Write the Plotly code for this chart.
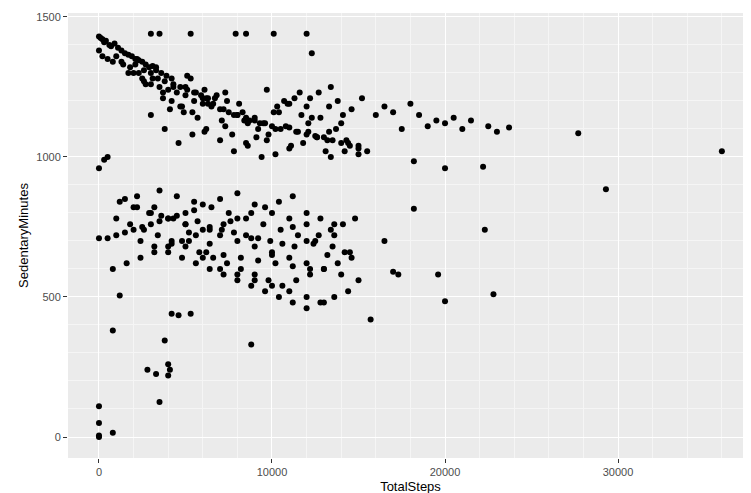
import plotly.graph_objects as go

total_steps = [
 36000,29300,27700,22800,22300,22200,20000,20000,19600,18200,18200,23700,23000,22500,21500,21000,20500,20000,19500,19000,18500,18000,17500,17000,16500,16000,17000,17300,16500,15700,
 12000,12300,10100,8500,7900,5300,3500,3000,
 0,0,0,0,800,800,3500,4000,4000,4100,3300,2800,3800,4200,4600,5300,8800,1200,0,0,500,300,
 0,100,200,300,400,600,700,900,1100,1300,1500,1700,1900,2100,2300,2500,2700,2900,3100,3300,3600,3900,4200,
 0,200,500,800,1000,1400,1800,2200,2600,3000,3400,3800,4300,4700,5100,5500,5900,6300,
 2000,2500,3000,3500,4000,4500,5000,5500,6000,6500,7000,7500,8000,8500,9000,9500,10000,10500,11000,11500,12000,12500,13000,13500,14000,14500,15000,15500,
 4200,4800,5400,6000,6600,7200,7800,8400,9000,9600,10200,10800,11400,12000,12600,13200,13800,14400,15000,
 5000,5600,6200,6800,7400,8000,8600,9200,9800,10400,11000,11600,12200,12800,13400,14000,14600,15200,
 3000,3800,4600,5400,6200,7000,7800,8600,9400,10200,11000,11800,12600,13400,14200,15000,
 1500,2200,2900,3600,4300,5000,5700,6400,7100,7800,8500,9200,9900,10600,11300,12000,12700,13400,14100,14800,
 1000,1800,2600,3400,4200,5000,5800,6600,7400,8200,9000,9800,10600,11400,12200,13000,13800,14600,
 2400,3200,4000,4800,5600,6400,7200,8000,8800,9600,10400,11200,12000,12800,13600,14400,
 800,1600,2400,3200,4000,4800,5600,6400,7200,8000,8800,9600,10400,11200,12000,12800,13600,
 3500,4500,5500,6500,7500,8500,9500,10500,11500,12500,13500,14500,
 2000,3000,4000,5000,6000,7000,8000,9000,10000,11000,12000,13000,14000,15000,
 6000,7000,8000,9000,10000,11000,12000,13000,
 500,1000,1500,2000,2500,3000,3500,4000,4500,5000,5500,6000,7000,8000,9000,10000,11000,12000,
 1200,2200,3200,4200,5200,6200,7200,8200,9200,10200,11200,12200,13200,14200,
 1300,2300,3300,4300,5300,6300,7300,8300,9300,10300,11300,12300,13300,14300,
 1700,2700,3700,4700,5700,6700,7700,8700,9700,10700,11700,12700,13700,
 2100,3100,4100,5100,6100,7100,8100,9100,10100,11100,12100,13100,14100,
 2600,3700,4900,6100,7300,8500,9700,10900,12100,13300,
 5200,6400,7600,8800,10000,11200,12400,13600,
]
sedentary_minutes = [
 1020,885,1085,510,740,965,960,485,580,815,985,1105,1090,1110,1130,1100,1140,1120,1130,1110,1150,1190,1100,1160,1180,1150,590,580,700,420,
 1440,1370,1440,1440,1440,1440,1440,1440,
 110,50,5,0,15,380,125,260,220,240,225,240,345,440,435,440,330,505,710,960,1000,990,
 1430,1425,1420,1410,1415,1400,1395,1405,1390,1380,1370,1365,1360,1350,1345,1340,1330,1320,1325,1310,1300,1290,1280,
 1380,1360,1350,1340,1360,1330,1320,1350,1310,1300,1280,1270,1260,1250,1240,1230,1220,1210,
 1300,1280,1260,1250,1240,1230,1220,1200,1190,1180,1170,1160,1150,1140,1130,1120,1110,1100,1105,1090,1080,1075,1070,1060,1050,1040,1030,1020,
 1200,1180,1160,1210,1190,1170,1150,1130,1140,1120,1100,1110,1090,1180,1070,1060,1200,1050,1040,
 1250,1230,1210,1220,1200,1150,1120,1100,1080,1160,1190,1230,1210,1140,1250,1120,1170,1210,
 1150,1100,1050,1080,1100,1060,1020,1040,1000,1010,1030,1050,1070,1000,1020,1010,
 850,820,800,790,780,760,770,750,740,730,720,710,700,690,680,700,720,740,760,780,
 780,760,740,720,700,680,660,640,620,600,580,560,540,560,580,600,620,640,
 700,680,660,640,620,600,580,560,540,520,500,480,460,480,500,520,
 600,620,640,660,680,700,720,740,760,780,800,820,840,860,800,780,760,
 880,860,840,820,800,780,760,740,720,700,680,660,
 820,800,780,760,740,720,700,680,660,640,620,600,580,560,
 640,600,580,560,540,520,500,480,
 710,720,730,740,750,760,770,780,790,800,810,830,850,870,830,800,780,760,
 840,860,820,690,700,660,650,640,630,620,610,600,650,660,
 1340,1300,1320,1250,1280,1190,1230,1160,1120,1180,1210,1140,1090,1060,
 1300,1260,1230,1180,1140,1210,1080,1130,1060,1200,1150,1230,1100,
 1330,1280,1170,1290,1090,1130,1190,1070,1160,1040,1120,1020,1150,
 1270,1210,1160,1240,1110,1050,1240,1190,1090,1180,
 730,690,770,710,650,750,690,720,680,730,
]

fnt = "Liberation Sans, Arial"
fig = go.Figure(go.Scatter(
    x=total_steps, y=sedentary_minutes, mode="markers",
    marker=dict(color="black", size=6), showlegend=False))

axis_common = dict(showgrid=True, gridcolor="white", gridwidth=1.2, zeroline=False,
                   ticks="outside", ticklen=4, tickcolor="#333333", automargin=False,
                   tickfont=dict(family=fnt, size=11, color="#4D4D4D"),
                   minor=dict(showgrid=True, gridcolor="#F5F5F5", gridwidth=0.6),
                   showline=False)
fig.update_xaxes(range=[-1790, 37800], tickvals=[0, 10000, 20000, 30000],
                 ticktext=["0", "10000", "20000", "30000"],
                 title=dict(text="TotalSteps", font=dict(family=fnt, size=13, color="black"), standoff=4),
                 **axis_common)
fig.update_yaxes(range=[-75, 1514], tickvals=[0, 500, 1000, 1500],
                 ticktext=["0", "500", "1000", "1500"],
                 title=dict(text="SedentaryMinutes", font=dict(family=fnt, size=13, color="black"), standoff=4),
                 **axis_common)
fig.update_layout(width=751, height=493, plot_bgcolor="#EBEBEB", paper_bgcolor="white",
                  margin=dict(l=60, r=6, t=5, b=43))
fig.write_html("out.html")
